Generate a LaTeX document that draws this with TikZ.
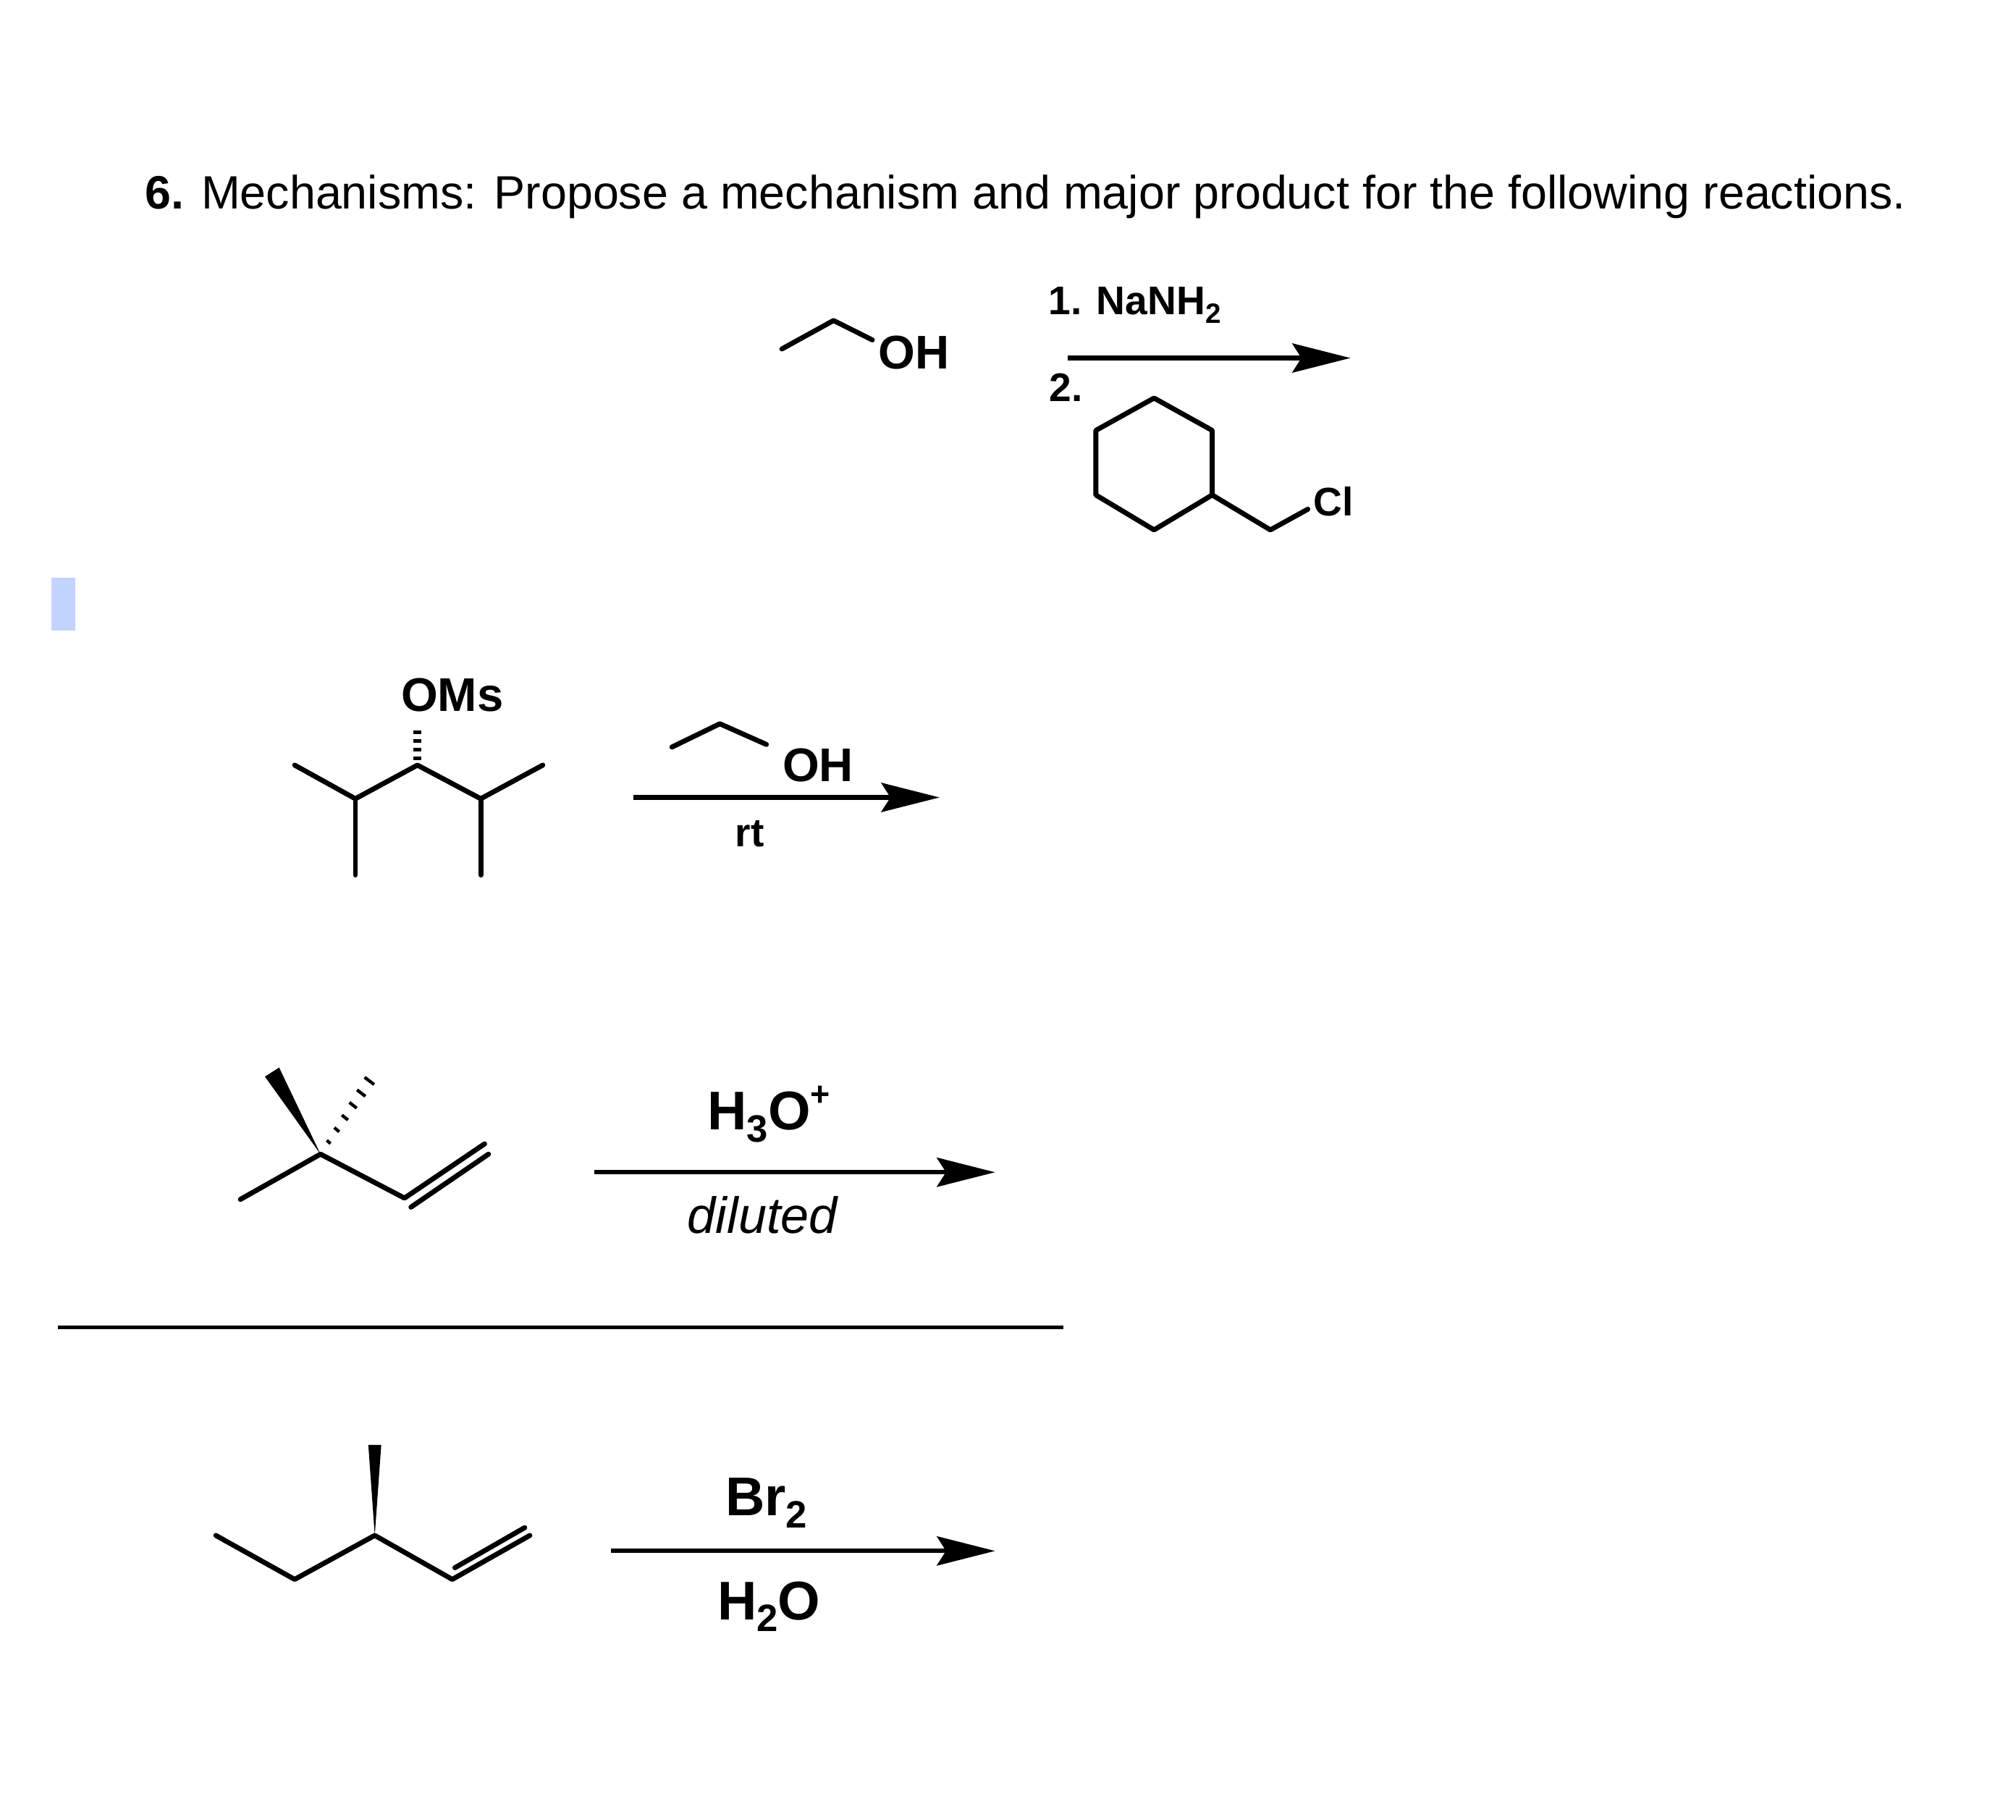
\documentclass[tikz,border=0pt]{standalone}
\usepackage{fontspec}
\setmainfont{Liberation Sans}
\usetikzlibrary{arrows.meta,calc}
\newcommand{\mysb}[1]{\raisebox{-0.22em}{\fontsize{0.7em}{0.7em}\selectfont #1}}
\newcommand{\mysp}[1]{\raisebox{0.45em}{\fontsize{0.62em}{0.62em}\selectfont #1}}
\begin{document}
\begin{tikzpicture}[x=0.05cm,y=-0.05cm,
 bond/.style={line width=5.5pt,line cap=round,line join=round},
 rxn/.style={line width=5pt,-{Stealth[length=64pt,width=32pt,inset=10pt]}},
 lab/.style={font=\fontsize{52}{60}\selectfont\bfseries,inner sep=0pt},
 reag/.style={font=\fontsize{44}{50}\selectfont\bfseries,inner sep=0pt},
 big/.style={font=\fontsize{60}{70}\selectfont\bfseries,inner sep=0pt}]
\useasboundingbox (0,0) rectangle (1560,1408);
\node[anchor=west,inner sep=0pt,font=\fontsize{51.5}{60}\selectfont] (title) at (112,152) {\textbf{6.} Mechanisms: Propose a mechanism and major product for the following reactions.};
\fill[blue!25!cyan!10!white!85!blue] (40,447) rectangle (58,488);
% reaction 1
\coordinate (e1) at (605,270); \coordinate (e2) at (645,248); \coordinate (e3) at (675,263);
\draw[bond] (e1)--(e2)--(e3);
\node[lab] (oh1) at (707,273) {OH};
\coordinate (a1s) at (826,277); \coordinate (a1e) at (1045,277);
\draw[rxn] (a1s)--(a1e);
\node[reag] (r11) at (878,236) {1. NaNH\mysb{2}};
\node[reag] (r12) at (825,300) {2.};
\draw[bond] (893,308)--(938,333)--(938,383)--(893,410)--(848,383)--(848,333)--cycle;
\draw[bond] (938,383)--(983,410)--(1012,394);
\node[reag] (cl) at (1032,388) {Cl};
% reaction 2
\node[lab] (oms) at (350,538) {OMs};
\coordinate (c0) at (323,592); \coordinate (cl2) at (275,618); \coordinate (cr2) at (372,618);
\draw[bond] (228,592)--(cl2)--(c0)--(cr2)--(420,592);
\draw[bond] (cl2)--(275,677); \draw[bond] (cr2)--(372,677);
\foreach \t in {0.15,0.35,0.55,0.75} \draw[line width=4pt] ($(323,592)!\t!(323,558)+(-3,0)$)--++(6,0);
\draw[bond] (520,578)--(557,560)--(593,576);
\node[lab] (oh2) at (633,592) {OH};
\draw[rxn] (490,617)--(727,617);
\node[reag] (rt) at (580,645) {rt};
% reaction 3
\coordinate (q) at (248,893);
\fill (q)--(205,833)--(216,826)--cycle;
\foreach \t in {0.15,0.3,0.45,0.6,0.75,0.9} \draw[line width=3.5pt] ($(q)!\t!(290,830)+(-3*\t-1,-2*\t-1)$)--($(q)!\t!(290,830)+(3*\t+1,2*\t+1)$);
\draw[bond] (186,928)--(q)--(313,927)--(375,885);
\draw[bond] (318,934)--(378,893);
\draw[rxn] (460,907)--(770,907);
\node[big] (h3o) at (595,862) {H\mysb{3}O\mysp{+}};
\node[inner sep=0pt,font=\fontsize{56}{64}\selectfont\itshape] (dil) at (590,940) {diluted};
\draw[line width=3.5pt] (45,1027)--(823,1027);
% reaction 4
\draw[bond] (167,1188)--(228,1222)--(290,1188)--(350,1222)--(410,1188);
\draw[bond] (352,1213)--(406,1182);
\fill (290,1188)--(285,1118)--(295,1118)--cycle;
\draw[rxn] (473,1200)--(770,1200);
\node[big] (br) at (593,1163) {Br\mysb{2}};
\node[big] (h2o) at (595,1243) {H\mysb{2}O};
\end{tikzpicture}
\end{document}
